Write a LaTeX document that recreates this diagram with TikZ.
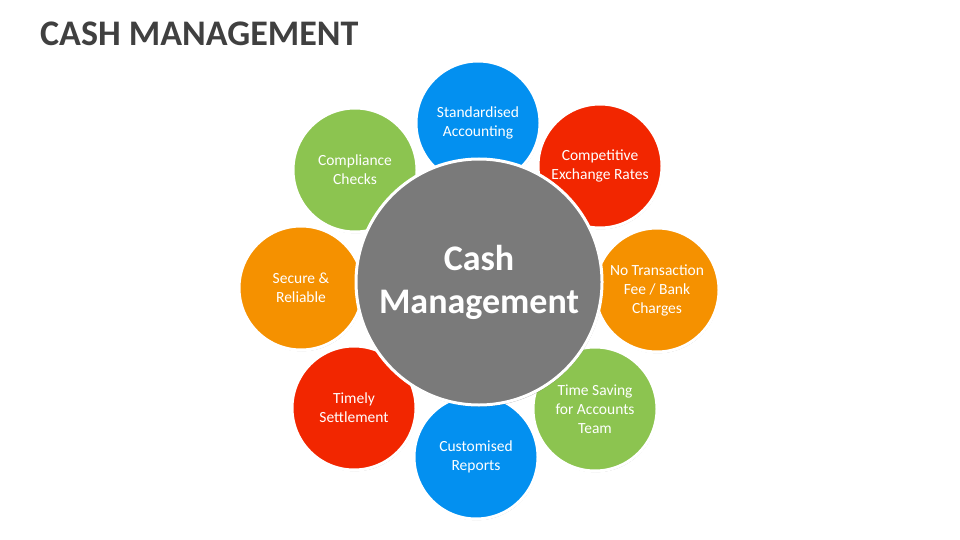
\documentclass[tikz,border=0pt]{standalone}
\usepackage{fontspec}
\setmainfont{Carlito}
\usetikzlibrary{shadows}
\definecolor{cblue}{RGB}{3,144,240}
\definecolor{cred}{RGB}{242,38,0}
\definecolor{corange}{RGB}{245,145,0}
\definecolor{cgreen}{RGB}{140,196,80}
\definecolor{cgray}{RGB}{122,122,122}
\definecolor{ctitle}{RGB}{64,64,64}
\tikzset{
  sat/.style={circle, minimum size=124pt, inner sep=0pt, draw=white, line width=3pt,
    fill=#1, text=white, align=center,
    font=\fontsize{15.5}{19}\selectfont,
    drop shadow={shadow xshift=0.6pt, shadow yshift=-1.2pt, opacity=0.35, fill=black}},
  hub/.style={circle, minimum size=246pt, inner sep=0pt, draw=white, line width=3pt,
    fill=cgray, text=white, align=center,
    font=\fontsize{36}{43}\selectfont\bfseries,
    drop shadow={shadow xshift=0.8pt, shadow yshift=-1.5pt, opacity=0.35, fill=black}},
  titletext/.style={anchor=base west, inner sep=0pt, text=ctitle,
    font=\fontsize{36}{40}\selectfont\bfseries}
}
\begin{document}
\begin{tikzpicture}[x=1pt,y=-1pt]
\useasboundingbox[fill=white] (0,0) rectangle (960,540);
\node[titletext] (title) at (40,46) {CASH MANAGEMENT};
\node[sat=cgreen] (compl) at (355,170) {Compliance\\Checks};
\node[sat=cblue] (std) at (478,123) {Standardised\\Accounting};
\node[sat=cred] (comp) at (600,166) {Competitive\\Exchange Rates};
\node[sat=corange] (notr) at (657,290) {No Transaction\\Fee / Bank\\Charges};
\node[sat=cgreen] (time) at (595,409) {Time Saving\\for Accounts\\Team};
\node[sat=corange] (sec) at (301,288) {Secure \&\\Reliable};
\node[sat=cred] (timely) at (354,408) {Timely\\Settlement};
\node[sat=cblue] (cust) at (476,457) {Customised\\Reports};
\node[hub] (hub) at (479,282) {Cash\\Management};
\end{tikzpicture}
\end{document}
